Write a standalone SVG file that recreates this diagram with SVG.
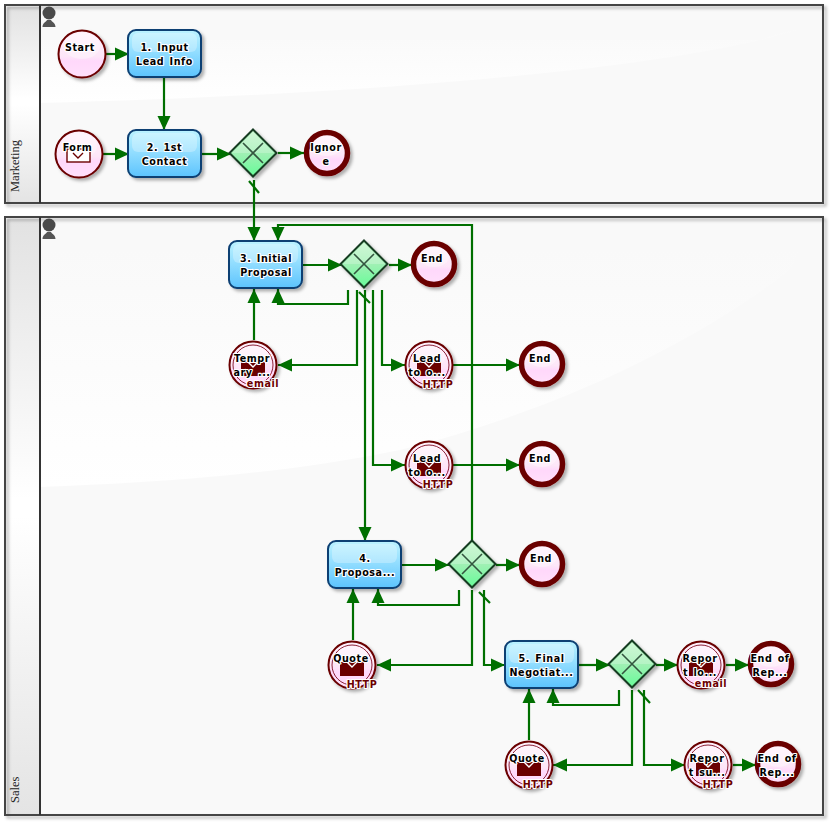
<svg xmlns="http://www.w3.org/2000/svg" xmlns:xlink="http://www.w3.org/1999/xlink" width="830" height="822" viewBox="0 0 830 822">
<style>
.pool{fill:#f9f9f9;stroke:none}
.frame{fill:none;stroke:#444;stroke-width:2}
.lane{fill:url(#gHead);stroke:none}
.divider{stroke:#333;stroke-width:2}
.lbl{font-family:"Liberation Serif",serif;font-size:12.5px;fill:#222}
.t{font-family:"DejaVu Sans",sans-serif;font-weight:bold;font-size:9.6px;letter-spacing:.55px;word-spacing:1.5px;text-anchor:middle;fill:#000;stroke:#fff;stroke-width:2.2px;paint-order:stroke;stroke-linejoin:round}
.s{font-family:"DejaVu Sans",sans-serif;font-weight:bold;font-size:9.6px;letter-spacing:.55px;text-anchor:middle;fill:#6b0000;stroke:#fff;stroke-width:2.2px;paint-order:stroke;stroke-linejoin:round}
.task{fill:url(#gTask);stroke:#0b3f73;stroke-width:2;filter:url(#sh)}
.taskg{fill:#fff;opacity:.28}
.gw{fill:url(#gGate);stroke:#143c20;stroke-width:2;filter:url(#sh)}
.gwg{fill:#fff;opacity:.22}
.x{stroke:#33553f;stroke-width:1.6;fill:none}
.ev{fill:url(#gEv);stroke:#6b0000;stroke-width:2;filter:url(#sh)}
.end{fill:url(#gEv);stroke:#6b0000;stroke-width:5.5;filter:url(#sh)}
.inner{fill:none;stroke:#8a2035;stroke-width:1}
.gloss{fill:#fff;opacity:.35}
.env{fill:#6b0000}
.envl{fill:none;stroke:#fff;stroke-width:1.4}
.form{fill:#fff;stroke:#6b0000;stroke-width:1.4}
.formv{fill:none;stroke:#6b0000;stroke-width:1.4}
#connectors path{fill:none;stroke:#006f00;stroke-width:2.2}
#connectors path.a{marker-end:url(#arr)}
</style>
<defs>
<filter id="sh" x="-20%" y="-20%" width="150%" height="150%"><feDropShadow dx="2.5" dy="2.5" stdDeviation="1.5" flood-color="#000" flood-opacity=".3"/></filter>
<linearGradient id="gHead" x1="0" y1="0" x2="0" y2="1"><stop offset="0" stop-color="#e2e2e2"/><stop offset=".47" stop-color="#ffffff"/><stop offset=".5" stop-color="#ffffff"/><stop offset="1" stop-color="#e4e4e4"/></linearGradient>
<linearGradient id="gSweep" x1="0" y1="0" x2="0" y2="1"><stop offset="0" stop-color="#f9f9f9"/><stop offset="1" stop-color="#ffffff"/></linearGradient>
<linearGradient id="gTask" x1="0" y1="0" x2="0" y2="1"><stop offset="0" stop-color="#bdf3ff"/><stop offset=".5" stop-color="#8fdcff"/><stop offset="1" stop-color="#5cc3fd"/></linearGradient>
<linearGradient id="gGate" x1="0" y1="0" x2="0" y2="1"><stop offset="0" stop-color="#c4f7cc"/><stop offset=".5" stop-color="#a0f0b4"/><stop offset="1" stop-color="#66fc98"/></linearGradient>
<linearGradient id="gEv" x1="0" y1="0" x2="0" y2="1"><stop offset="0" stop-color="#fff0fb"/><stop offset=".55" stop-color="#fde6f8"/><stop offset=".65" stop-color="#ffd8fb"/><stop offset="1" stop-color="#ffe0fb"/></linearGradient>
<marker id="arr" markerUnits="userSpaceOnUse" markerWidth="15" markerHeight="14" refX="14" refY="7" orient="auto"><path d="M0 0.500L14 7L0 13.500z" fill="#006f00"/></marker>
<g id="person"><circle cx="0" cy="0" r="6.500" fill="#4a4a4a"/><path d="M-6.500 14C-6.500 10-3 9-2 7H2C3 9 6.500 10 6.500 14z" fill="#555"/></g>
<g id="gate"><path class="gw" d="M0-23.500L23.500 0L0 23.500L-23.500 0z"/><path class="gwg" d="M0-21L21 0H-21z"/><path class="x" d="M-10-10L10 10M-10 10L10-10"/></g>
<g id="rtask"><rect class="task" x="0" y="0" width="73" height="47" rx="8"/><rect class="taskg" x="4" y="3" width="65" height="19" rx="6"/></g>
<g id="start"><circle class="ev" r="23.500"/><ellipse class="gloss" cx="0" cy="-8" rx="18" ry="13"/></g>
<g id="stop"><circle class="end" r="20.500"/><ellipse class="gloss" cx="0" cy="-7" rx="15" ry="10"/></g>
<g id="inter"><circle class="ev" r="23.500"/><circle class="inner" r="20"/><ellipse class="gloss" cx="0" cy="-8" rx="16" ry="11"/><rect class="env" x="-12" y="-3" width="24" height="14"/><path class="envl" d="M-5-3L0 2L5-3"/></g>
</defs>

<g id="pool-marketing">
<rect class="pool" x="5" y="5" width="818" height="198"/>
<path fill="url(#gSweep)" d="M40 40H760C780 32 795 30 810 26C700 65 400 94 40 103z"/>
<rect class="lane" x="7" y="7" width="33" height="195"/>
<rect class="frame" x="5" y="5" width="818" height="198" style="filter:url(#sh)"/>
<path class="divider" d="M40 5V203"/>
<text class="lbl" transform="translate(19,192) rotate(-90)">Marketing</text>
<use xlink:href="#person" href="#person" x="49" y="13"/>
</g>
<g id="pool-sales">
<rect class="pool" x="5" y="217" width="818" height="598"/>
<path fill="url(#gSweep)" d="M40 250H800L790 270C700 340 560 410 400 450C280 475 150 483 40 487z"/>
<rect class="lane" x="7" y="219" width="33" height="595"/>
<rect class="frame" x="5" y="217" width="818" height="598" style="filter:url(#sh)"/>
<path class="divider" d="M40 217V815"/>
<text class="lbl" transform="translate(19,803) rotate(-90)">Sales</text>
<use xlink:href="#person" href="#person" x="49" y="225"/>
</g>

<g id="connectors">
<path class="a" d="M106 54H129"/>
<path class="a" d="M164 78V130"/>
<path class="a" d="M103 154H129"/>
<path class="a" d="M202 154H231"/>
<path class="a" d="M278 153H304"/>
<path class="a" d="M254 180V241"/><path d="M249 181L259 193"/>
<path class="a" d="M303 265H342"/>
<path class="a" d="M389 265H412"/>
<path class="a" d="M348 290V304H278V289"/>
<path class="a" d="M357 290V365H278"/>
<path class="a" d="M365 290V541"/><path d="M359 292L370 303"/>
<path class="a" d="M373 290V465H405"/>
<path class="a" d="M382 290V365H405"/>
<path class="a" d="M453 365H520"/>
<path class="a" d="M453 465H520"/>
<path class="a" d="M472 541V225H278V241"/>
<path class="a" d="M402 565H449"/>
<path class="a" d="M496 565H520"/>
<path class="a" d="M459 590V605H378V589"/>
<path class="a" d="M472 590V665H377"/>
<path class="a" d="M484 590V665H505"/><path d="M479 592L490 603"/>
<path class="a" d="M353 640V589"/>
<path class="a" d="M254 340V289"/>
<path class="a" d="M578 665H610"/>
<path class="a" d="M656 665H678"/>
<path class="a" d="M726 665H749"/>
<path class="a" d="M619 690V705H553V689"/>
<path class="a" d="M632 690V765H553"/>
<path class="a" d="M644 690V765H685"/><path d="M638 690L650 703"/>
<path class="a" d="M529 740V689"/>
<path class="a" d="M733 765H756"/>
</g>

<g id="n-start"><use href="#start" x="82" y="54"/><text class="t" x="80" y="51">Start</text></g>
<g id="n-task1"><use href="#rtask" x="128" y="30"/><text class="t" x="164.500" y="51">1. Input</text><text class="t" x="164.500" y="65">Lead Info</text></g>
<g id="n-form"><use href="#start" x="79" y="154"/><rect class="form" x="67" y="149" width="23" height="13"/><path class="formv" d="M73 153L78 158L83 153"/><text class="t" x="77.500" y="151">Form</text></g>
<g id="n-task2"><use href="#rtask" x="128" y="130"/><text class="t" x="164.500" y="151">2. 1st</text><text class="t" x="164.500" y="165">Contact</text></g>
<g id="n-gw1"><use href="#gate" x="253" y="153"/></g>
<g id="n-ignore"><use href="#stop" x="327" y="153"/><text class="t" x="326" y="151">Ignor</text><text class="t" x="326" y="165">e</text></g>
<g id="n-task3"><use href="#rtask" x="229" y="241"/><text class="t" x="266" y="262">3. Initial</text><text class="t" x="266" y="276">Proposal</text></g>
<g id="n-gw2"><use href="#gate" x="364" y="264"/></g>
<g id="n-end1"><use href="#stop" x="434" y="264"/><text class="t" x="432" y="262">End</text></g>
<g id="n-tempr"><use href="#inter" x="253" y="365"/><text class="t" x="252" y="362">Tempr</text><text class="t" x="252" y="376">ary ...</text><text class="s" x="263" y="387">email</text></g>
<g id="n-lead1"><use href="#inter" x="429" y="365"/><text class="t" x="427" y="362">Lead</text><text class="t" x="427" y="376">to o...</text><text class="s" x="438" y="388">HTTP</text></g>
<g id="n-end2"><use href="#stop" x="542" y="364"/><text class="t" x="540" y="362">End</text></g>
<g id="n-lead2"><use href="#inter" x="429" y="465"/><text class="t" x="427" y="462">Lead</text><text class="t" x="427" y="476">to o...</text><text class="s" x="438" y="488">HTTP</text></g>
<g id="n-end3"><use href="#stop" x="542" y="464"/><text class="t" x="540" y="462">End</text></g>
<g id="n-task4"><use href="#rtask" x="328" y="541"/><text class="t" x="365" y="562">4.</text><text class="t" x="365" y="576">Proposa...</text></g>
<g id="n-gw3"><use href="#gate" x="472" y="564"/></g>
<g id="n-end4"><use href="#stop" x="542" y="564"/><text class="t" x="541" y="562">End</text></g>
<g id="n-quote1"><use href="#inter" x="352" y="665"/><text class="t" x="351" y="662">Quote</text><text class="s" x="362" y="688">HTTP</text></g>
<g id="n-task5"><use href="#rtask" x="505" y="641"/><text class="t" x="541.500" y="662">5. Final</text><text class="t" x="541.500" y="676">Negotiat...</text></g>
<g id="n-gw4"><use href="#gate" x="632" y="664"/></g>
<g id="n-report1"><use href="#inter" x="701" y="665"/><text class="t" x="700" y="662">Repor</text><text class="t" x="700" y="676">t lo...</text><text class="s" x="711" y="687">email</text></g>
<g id="n-end5"><use href="#stop" x="771" y="664"/><text class="t" x="770" y="662">End of</text><text class="t" x="770" y="676">Rep...</text></g>
<g id="n-quote2"><use href="#inter" x="529" y="765"/><text class="t" x="527" y="762">Quote</text><text class="s" x="538" y="788">HTTP</text></g>
<g id="n-report2"><use href="#inter" x="708" y="765"/><text class="t" x="707" y="762">Repor</text><text class="t" x="707" y="776">t su...</text><text class="s" x="718" y="788">HTTP</text></g>
<g id="n-end6"><use href="#stop" x="778" y="764"/><text class="t" x="777" y="762">End of</text><text class="t" x="777" y="776">Rep...</text></g>
</svg>
